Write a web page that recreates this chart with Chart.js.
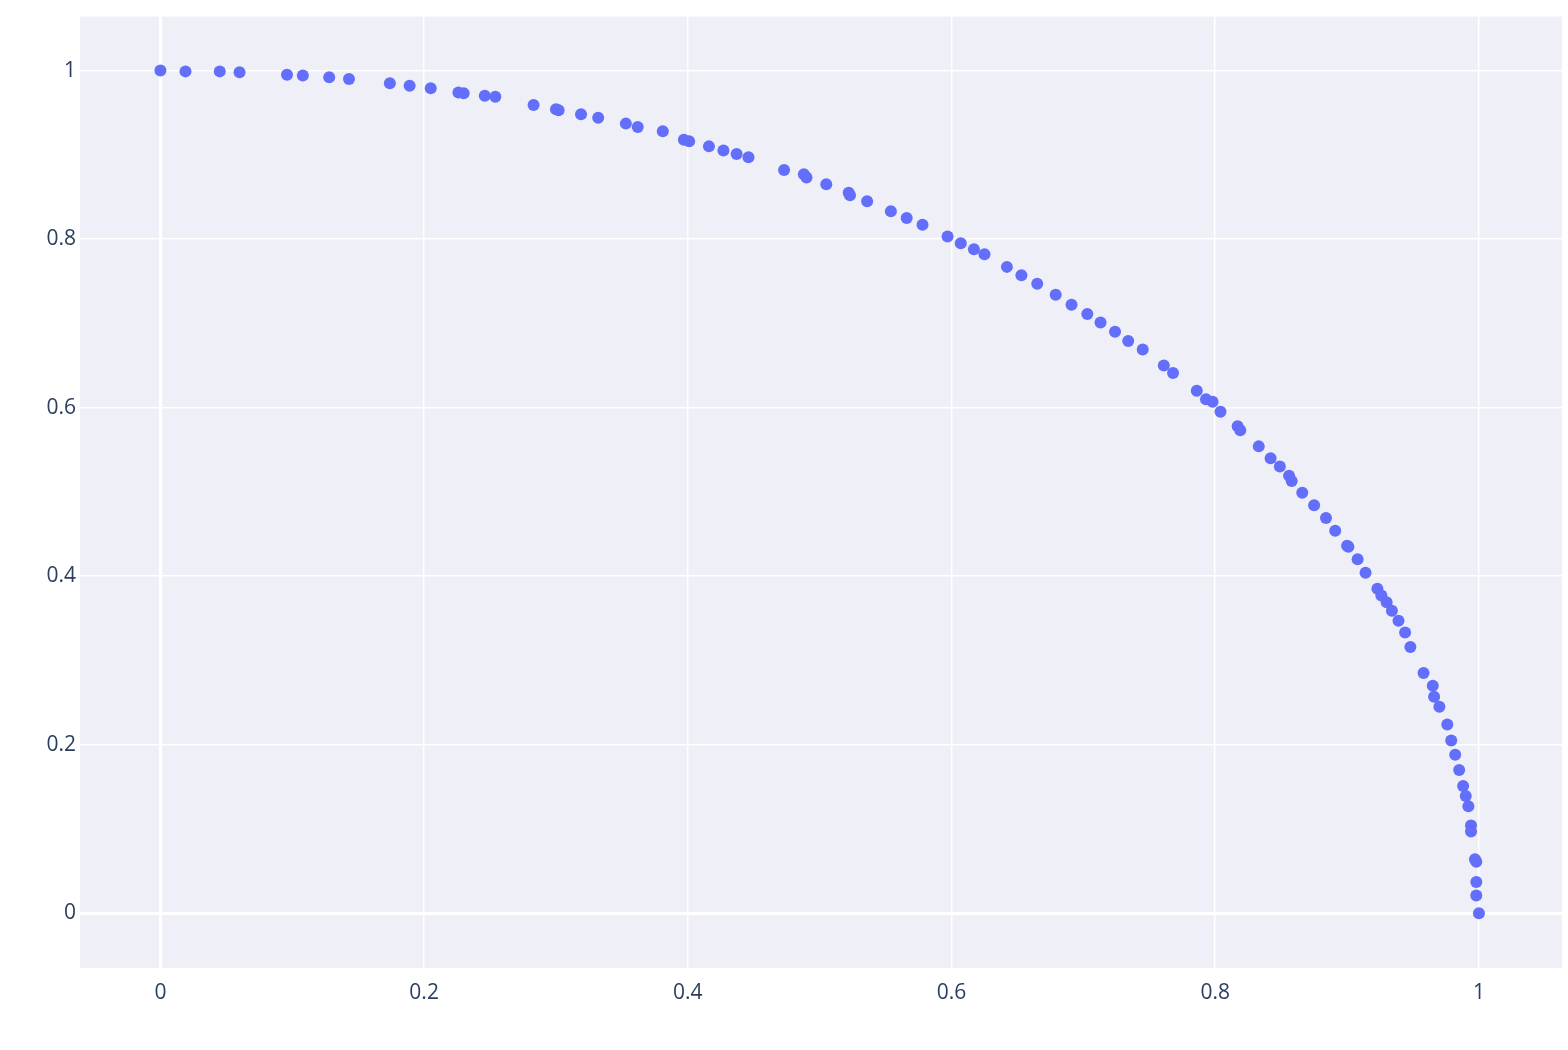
<!DOCTYPE html>
<html><head><meta charset="utf-8">
<script src="https://cdn.jsdelivr.net/npm/chart.js@4"></script>
<style>html,body{margin:0;padding:0;background:#fff}#w{width:1568px;height:1050px}</style>
</head><body><div id="w"><canvas id="c"></canvas></div>
<script>
const xValues=[0,0.019,0.045,0.060,0.096,0.108,0.128,0.143,0.174,0.189,0.205,0.226,0.230,0.246,0.254,0.283,0.300,0.302,0.319,0.332,0.353,0.362,0.381,0.397,0.401,0.416,0.427,0.437,0.446,0.473,0.488,0.490,0.505,0.522,0.523,0.536,0.554,0.566,0.578,0.597,0.607,0.617,0.625,0.642,0.653,0.665,0.679,0.691,0.703,0.713,0.724,0.734,0.745,0.761,0.768,0.786,0.793,0.798,0.804,0.817,0.819,0.833,0.842,0.849,0.856,0.858,0.866,0.875,0.884,0.891,0.900,0.901,0.908,0.914,0.923,0.926,0.930,0.934,0.939,0.944,0.948,0.958,0.965,0.966,0.970,0.976,0.979,0.982,0.985,0.988,0.990,0.992,0.994,0.994,0.997,0.998,0.998,0.998,1.0];
const yValues=[1.0,0.999,0.999,0.998,0.995,0.994,0.992,0.990,0.985,0.982,0.979,0.974,0.973,0.970,0.969,0.959,0.954,0.953,0.948,0.944,0.937,0.933,0.928,0.918,0.916,0.910,0.905,0.901,0.897,0.882,0.877,0.873,0.865,0.855,0.852,0.845,0.833,0.825,0.817,0.803,0.795,0.788,0.782,0.767,0.757,0.747,0.734,0.722,0.711,0.701,0.690,0.679,0.669,0.650,0.641,0.620,0.610,0.607,0.595,0.578,0.573,0.554,0.540,0.530,0.519,0.513,0.499,0.484,0.469,0.454,0.436,0.435,0.420,0.404,0.385,0.377,0.369,0.359,0.347,0.333,0.316,0.285,0.270,0.257,0.245,0.224,0.205,0.188,0.170,0.151,0.139,0.127,0.104,0.097,0.064,0.061,0.037,0.021,0.0];
const tickValues=[0,0.2,0.4,0.6,0.8,1];
const pts=xValues.map((x,i)=>({x,y:yValues[i]}));
const bg={id:'bg',beforeDraw(c){const a=c.chartArea,ctx=c.ctx;ctx.save();ctx.fillStyle='#EEEFF7';ctx.fillRect(a.left,a.top,a.right-a.left,a.bottom-a.top);ctx.restore();}};
const setTicks=s=>{s.ticks=tickValues.map(v=>({value:v}));};
const grid={color:'#fff',lineWidth:c=>c.tick&&c.tick.value===0?3:1.5,drawTicks:false};
const font={family:'"Open Sans", sans-serif',size:21};
new Chart(document.getElementById('c'),{
type:'scatter',
data:{datasets:[{data:pts,backgroundColor:'#636efa',borderWidth:0,pointRadius:6,pointHoverRadius:6}]},
options:{responsive:true,maintainAspectRatio:false,animation:false,
layout:{padding:{top:-16,right:-6,left:0,bottom:0}},
plugins:{legend:{display:false},tooltip:{enabled:false}},
scales:{
x:{type:'linear',min:-0.061,max:1.063,afterBuildTicks:setTicks,afterFit:s=>{s.height=82;},border:{display:false},grid,
 ticks:{font,color:'#2a3f5f',padding:12,callback:v=>String(+v.toFixed(1))}},
y:{type:'linear',min:-0.065,max:1.064,afterBuildTicks:setTicks,afterFit:s=>{s.width=80;},border:{display:false},grid,
 ticks:{font,color:'#2a3f5f',padding:4,callback:v=>String(+v.toFixed(1))}}
}},
plugins:[bg]});
</script></body></html>
